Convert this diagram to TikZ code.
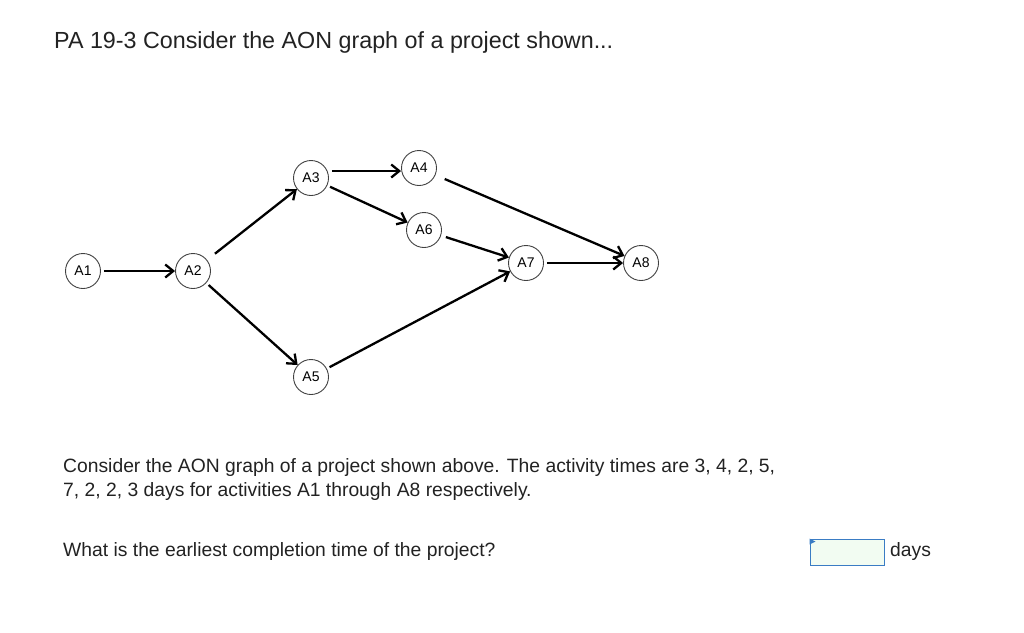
\documentclass[tikz,border=0pt]{standalone}
\usepackage{fontspec}
\setmainfont{Liberation Sans}
\usetikzlibrary{arrows.meta}
\definecolor{txt}{HTML}{222222}
\definecolor{boxfill}{HTML}{F2FCF2}
\definecolor{boxline}{HTML}{3A7CC4}
\begin{document}
\begin{tikzpicture}[x=1pt,y=-1pt,
  act/.style={draw=black!75,line width=0.9pt,circle,minimum size=35pt,inner sep=0pt,font=\fontsize{14}{14}\selectfont},
  arr/.style={line width=2.3pt,-{Straight Barb[length=8pt,width=13pt,line width=2.3pt]},shorten <=3pt},
  txtn/.style={anchor=west,text=txt,inner sep=0pt,font=\fontsize{19.3}{24}\selectfont,align=left}]
\useasboundingbox (0,0) rectangle (1024,632);
\node[txtn,font=\fontsize{23.3}{27}\selectfont] (title) at (54,42) {PA 19-3 Consider the AON graph of a project shown...};
\node[act] (A1) at (83,271) {A1};
\node[act] (A2) at (193,271) {A2};
\node[act] (A3) at (311,178) {A3};
\node[act] (A4) at (419,168) {A4};
\node[act] (A6) at (424,230) {A6};
\node[act] (A7) at (526,263) {A7};
\node[act] (A8) at (641,263) {A8};
\node[act] (A5) at (311,377) {A5};
\draw[arr] (A1) -- (A2);
\draw[arr,shorten <=10pt] (A2) -- (A3);
\draw[arr] (A2) -- (A5);
\draw[arr] (A3.east) ++(0,-7) -- (A4.west |- 0,171);
\draw[arr] (A3) -- (A6);
\draw[arr,shorten <=10pt] (A4) -- (A8);
\draw[arr,shorten <=5pt] (A6) -- (A7);
\draw[arr] (A5) -- (A7);
\draw[arr] (A7) -- (A8);
\node[txtn,anchor=north west] (p1) at (63,458) {Consider the AON graph of a project shown above. The activity times are 3, 4, 2, 5,\\7, 2, 2, 3 days for activities A1 through A8 respectively.};
\node[txtn] (q) at (63,551) {What is the earliest completion time of the project?};
\node[draw=boxline,fill=boxfill,line width=1pt,minimum width=74pt,minimum height=26pt,inner sep=0pt] (box) at (847,552) {};
\fill[boxline] (box.north west) -- ++(6,3) -- ++(-6,3) -- cycle;
\node[txtn] (days) at (890,551) {days};
\end{tikzpicture}
\end{document}
